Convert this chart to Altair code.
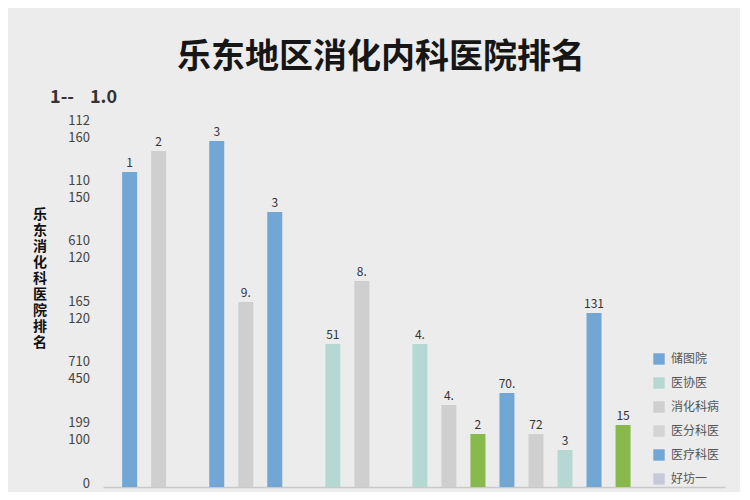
import altair as alt
import pandas as pd

FONT = "Noto Sans CJK SC"

# bars: slot index along the x axis, height, label above, category
slots = [0, 1, 3, 4, 5, 7, 8, 10, 11, 12, 13, 14, 15, 16, 17]
heights = [315, 336, 346, 185, 275, 143, 206, 143, 82, 53, 94, 53, 37, 174, 62]
bar_labels = ["1", "2", "3", "9.", "3", "51", "8.", "4.", "4.", "2", "70.", "72", "3", "131", "15"]
groups = ["储图院", "消化科病", "储图院", "消化科病", "储图院", "医协医", "消化科病",
          "医协医", "消化科病", "其他", "储图院", "消化科病", "医协医", "储图院", "其他"]

legend_names = ["储图院", "医协医", "消化科病", "医分科医", "医疗科医", "好坊一"]
legend_colors = ["#72a6d4", "#b5d9d2", "#cfcfcf", "#d4d4d4", "#72a6d4", "#c6c9d8"]

# y axis labels (two stacked numbers per tick)
ytick_pos = [366, 306, 246, 185, 125, 64, 3]
ytick_text = ["112\n160", "110\n150", "610\n120", "165\n120", "710\n450", "199\n100", "0"]

# the odd pair of labels above the axis
top_text = ["1--", "1.0"]
top_x = [-29, 14]

df = pd.DataFrame({"slot": slots, "h": heights, "lab": bar_labels, "grp": groups})
ydf = pd.DataFrame({"v": ytick_pos, "t": ytick_text})

color_scale = alt.Scale(domain=legend_names + ["其他"], range=legend_colors + ["#88b94c"])
xs = alt.Scale(domain=[-0.746, 20.34], nice=False, zero=False)
ys = alt.Scale(domain=[0, 400], nice=False)

base = alt.Chart(df)

bars = base.mark_bar(width=15).encode(
    x=alt.X("slot:Q", scale=xs,
            axis=alt.Axis(labels=False, ticks=False, grid=False, title=None,
                          domainColor="#c9c9c9", domainWidth=1.5)),
    y=alt.Y("h:Q", scale=ys, axis=None),
    color=alt.Color("grp:N", scale=color_scale,
                    legend=alt.Legend(values=legend_names, title=None, orient="none",
                                      legendX=550, legendY=266, symbolType="square",
                                      symbolSize=130, symbolStrokeWidth=0,
                                      labelFont=FONT, labelFontSize=12, labelColor="#555",
                                      rowPadding=12, labelOffset=6)),
)

labels = base.mark_text(dy=-9, fontSize=12, font=FONT, color="#333").encode(
    x=alt.X("slot:Q", scale=xs), y=alt.Y("h:Q", scale=ys), text="lab:N"
)

yticks = alt.Chart(ydf).mark_text(align="right", baseline="middle", lineBreak="\n",
                                  fontSize=13, lineHeight=17, font=FONT,
                                  color="#444").encode(
    x=alt.value(-13), y=alt.Y("v:Q", scale=ys), text="t:N"
)

toplab = alt.Chart(pd.DataFrame({"v": [389, 389], "t": top_text, "px": top_x})).mark_text(
    align="right", baseline="middle", fontSize=18, font=FONT, fontWeight="bold",
    color="#333").encode(x=alt.X("px:Q", scale=None), y=alt.Y("v:Q", scale=ys), text="t:N")

ytitle = alt.Chart(pd.DataFrame({"v": [272], "t": ["\n".join("乐东消化科医院排名")]})).mark_text(
    align="center", baseline="middle", lineBreak="\n", fontSize=14, lineHeight=16,
    font=FONT, fontWeight="bold", color="#111").encode(
    x=alt.value(-63), y=alt.Y("v:Q", scale=ys), text="t:N")

chart = (bars + labels + yticks + toplab + ytitle).properties(
    width=622, height=400,
    autosize=alt.AutoSizeParams(type="none"),
    padding={"left": 95, "top": 79, "right": 15, "bottom": 5},
    background="#ececec",
    title=alt.TitleParams("乐东地区消化内科医院排名", font=FONT, fontSize=34,
                          fontWeight="bold", color="#161616", offset=12, dx=-33,
                          frame="group"),
).configure_view(stroke=None)

chart.save("out.html", embed_options={"renderer": "svg", "actions": False})
